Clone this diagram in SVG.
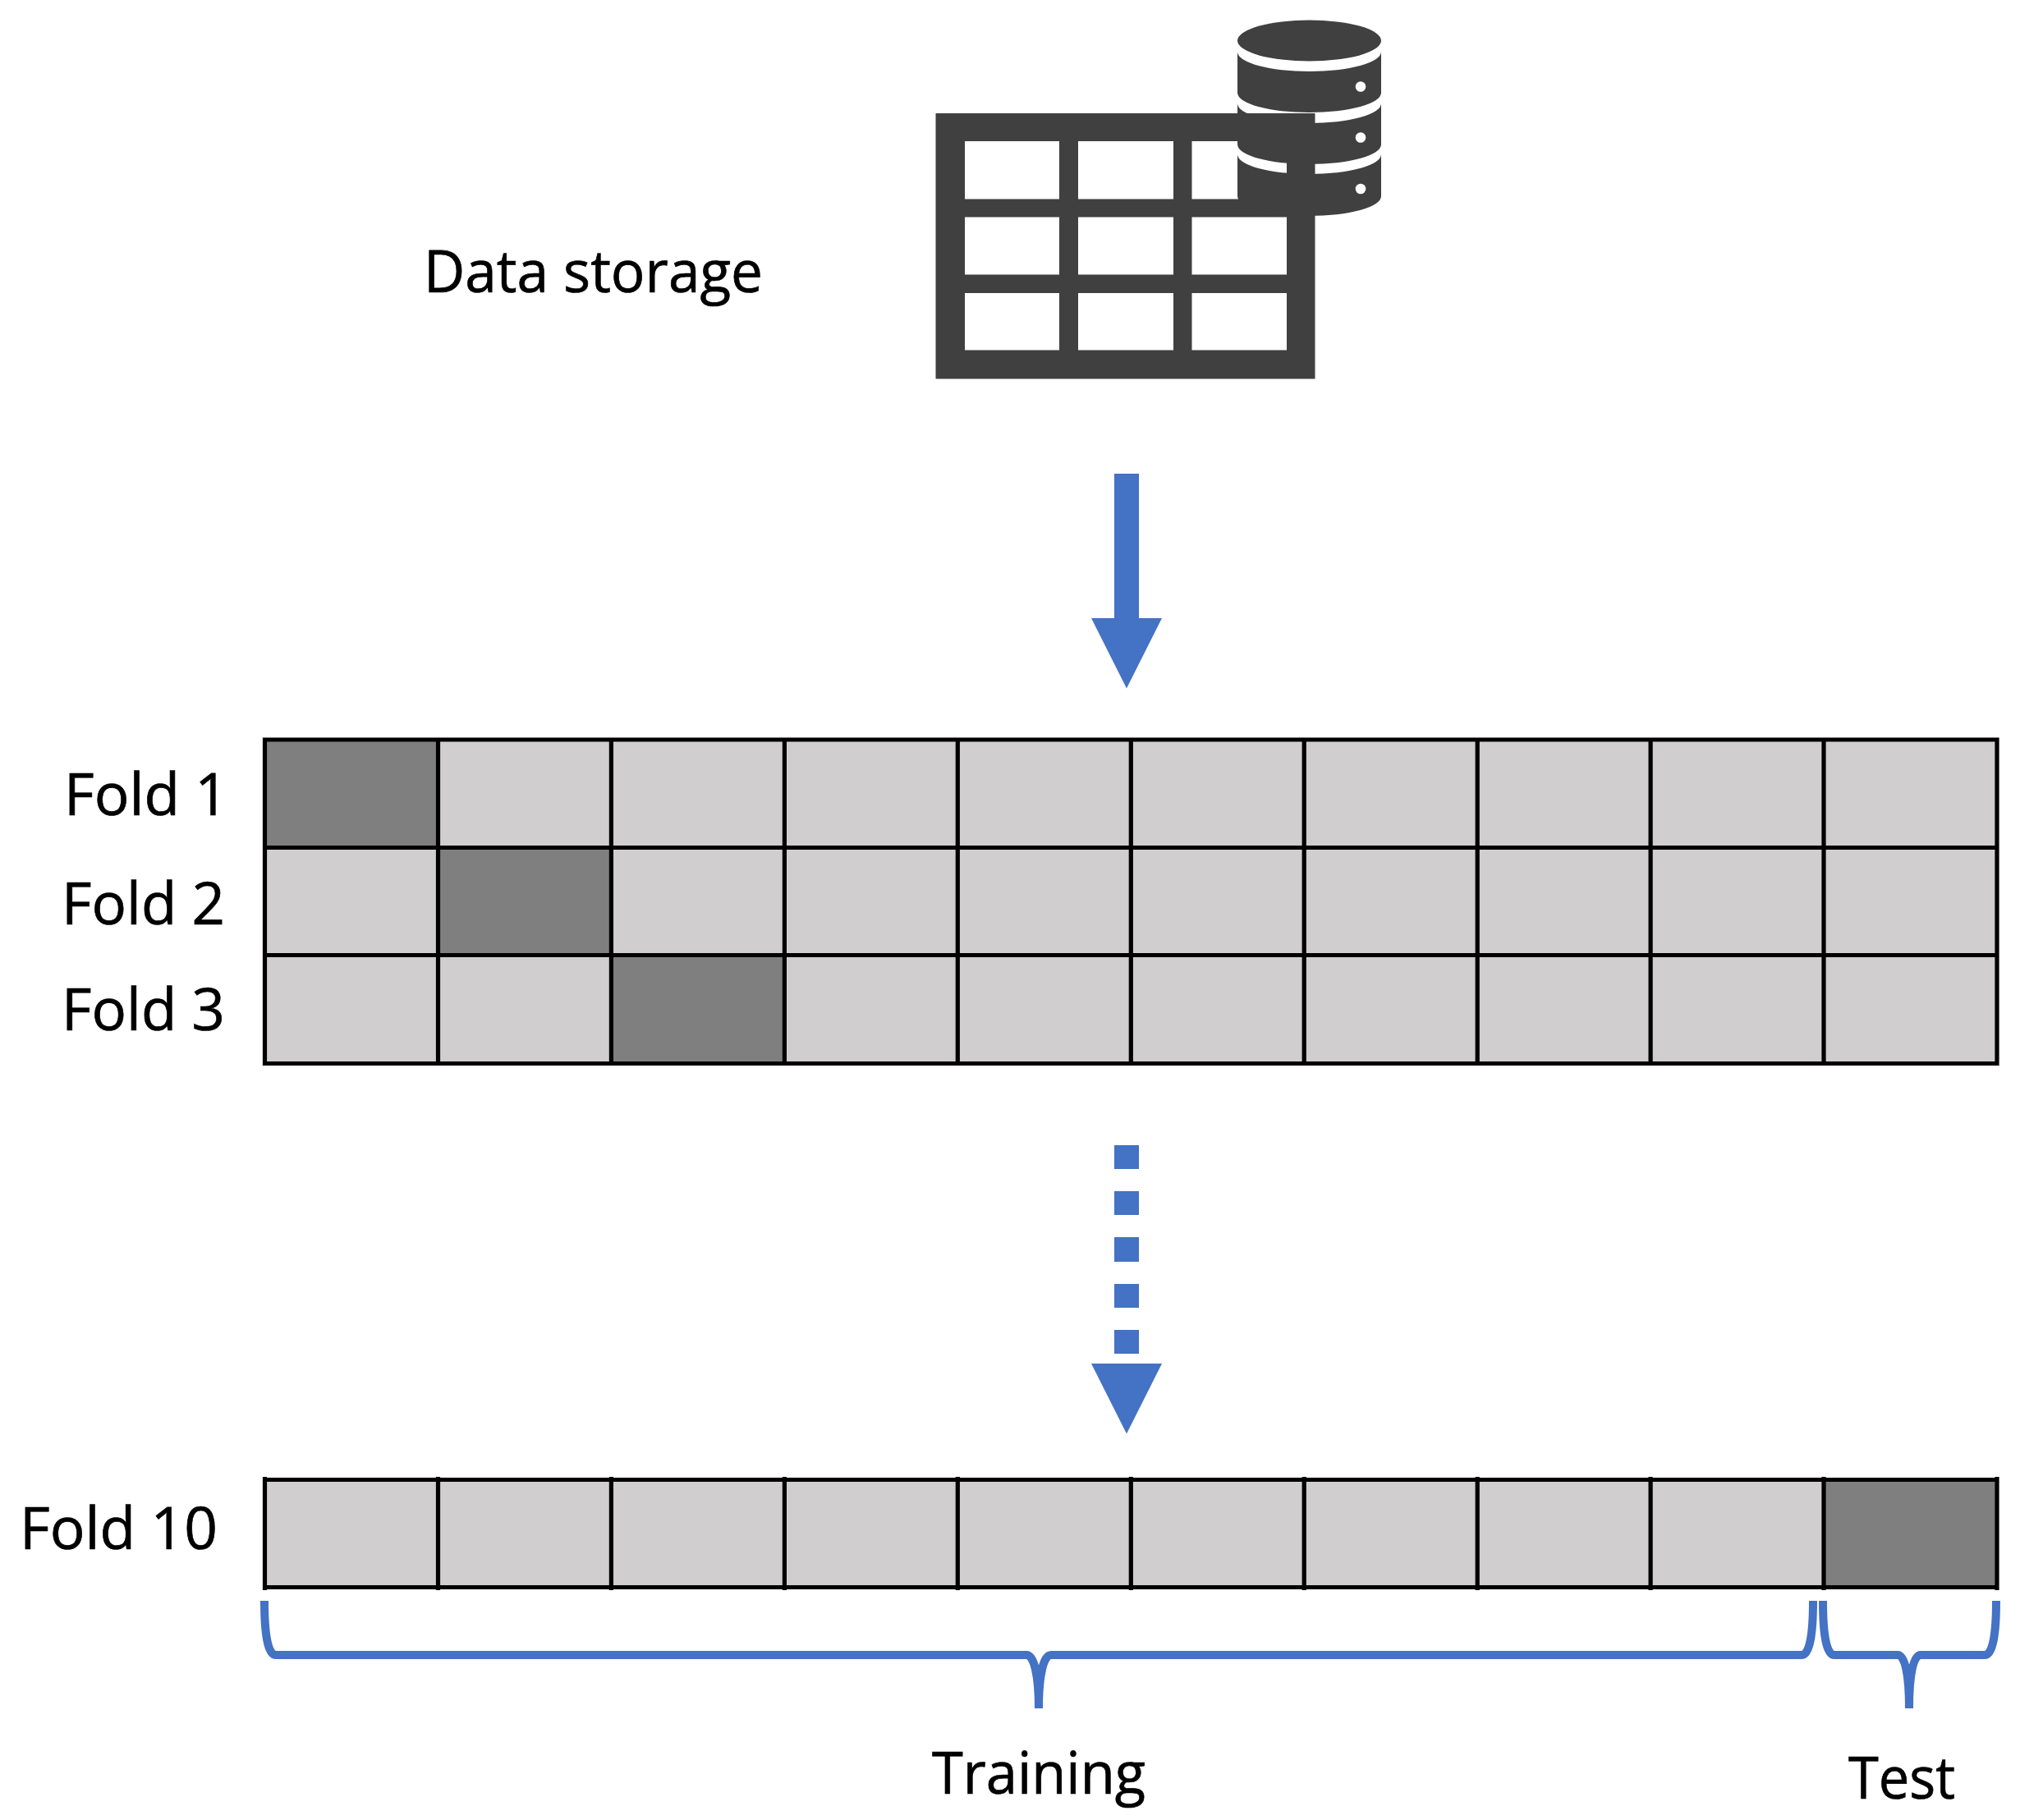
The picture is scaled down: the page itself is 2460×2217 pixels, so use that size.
<svg xmlns="http://www.w3.org/2000/svg" width="2460" height="2217" viewBox="0 0 2460 2217">
<style>
text{font-family:"Open Sans","Noto Sans","Liberation Sans",sans-serif;font-size:71px;fill:#000;stroke:#000;stroke-width:.7}
.l{fill:#D0CECE}.d{fill:#7F7F7F}
.g{stroke:#000;stroke-width:5.2;fill:none}
.b{fill:#4472C4}
.br{fill:none;stroke:#4472C4;stroke-width:10}
.ic{fill:#404040}
</style>
<rect width="2460" height="2217" fill="#fff"/>
<g id="data-storage">
<path class="ic" fill-rule="evenodd" d="M1139.5 138H1601.5V461.5H1139.5ZM1175 172V242.5H1290V172ZM1313 172V242.5H1429V172ZM1451.5 172V242.5H1567V172ZM1175 264.5V334.5H1290V264.5ZM1313 264.5V334.5H1429V264.5ZM1451.5 264.5V334.5H1567V264.5ZM1175 357V426.5H1290V357ZM1313 357V426.5H1429V357ZM1451.5 357V426.5H1567V357Z"/>
<ellipse class="ic" cx="1594.5" cy="49.5" rx="87.5" ry="25"/>
<path class="ic" d="M1507 63A87.500 24 0 0 0 1682 63V113A87.500 24 0 0 1 1507 113Z"/>
<path class="ic" d="M1507 126A87.500 24 0 0 0 1682 126V176A87.500 24 0 0 1 1507 176Z"/>
<path class="ic" d="M1507 188A87.500 24 0 0 0 1682 188V239A87.500 24 0 0 1 1507 239Z"/>
<circle cx="1657" cy="105.5" r="6.3" fill="#fff"/>
<circle cx="1657" cy="167.5" r="6.3" fill="#fff"/>
<circle cx="1657" cy="230" r="6.3" fill="#fff"/>
<text x="516" y="355.500" textLength="413" lengthAdjust="spacingAndGlyphs">Data storage</text>
</g>
<g id="connectors">
<path class="b" d="M1357 577H1387V753H1415L1372 838.500L1329 753H1357Z"/>
<g id="dashed-arrow">
<rect class="b" x="1357" y="1395" width="30" height="29"/>
<rect class="b" x="1357" y="1451" width="30" height="29"/>
<rect class="b" x="1357" y="1507" width="30" height="30"/>
<rect class="b" x="1357" y="1564" width="30" height="29"/>
<rect class="b" x="1357" y="1620" width="30" height="29"/>
<path class="b" d="M1329 1661H1415L1372 1746.500Z"/>
</g>
<path id="brace-training" class="br" d="M322 1950C322 1990 326 2016 336 2016H1250C1259 2016 1265 2040 1265 2081C1265 2040 1271 2016 1280 2016H2194C2204 2016 2208 1990 2208 1950"/>
<path id="brace-test" class="br" d="M2220 1950C2220 1990 2224 2016 2234 2016H2311C2320 2016 2325 2040 2325 2081C2325 2040 2330 2016 2339 2016H2417C2427 2016 2431 1990 2431 1950"/>
</g>
<g id="folds-grid">
<rect class="l" x="322" y="901" width="2110" height="394"/>
<rect class="d" x="322.500" y="901" width="211" height="131"/>
<rect class="d" x="533.500" y="1032" width="211" height="131"/>
<rect class="d" x="744.500" y="1163" width="211" height="132"/>
<path class="g" d="M322.500 901H2432V1295.500H322.500ZM322.500 1032.500H2432M322.500 1163.500H2432M533.500 901V1295.500M744.400 901V1295.500M955.400 901V1295.500M1166.300 901V1295.500M1377.300 901V1295.500M1588.200 901V1295.500M1799.200 901V1295.500M2010.100 901V1295.500M2221 901V1295.500"/>
</g>
<g id="fold-1"><text x="78" y="992.500" textLength="200" lengthAdjust="spacingAndGlyphs">Fold 1</text></g>
<g id="fold-2"><text x="75" y="1125.500" textLength="199" lengthAdjust="spacingAndGlyphs">Fold 2</text></g>
<g id="fold-3"><text x="75" y="1254.500" textLength="199" lengthAdjust="spacingAndGlyphs">Fold 3</text></g>
<g id="fold-10">
<text x="24" y="1886.500" textLength="241" lengthAdjust="spacingAndGlyphs">Fold 10</text>
<rect class="l" x="322" y="1802" width="1899" height="131"/>
<rect class="d" x="2221" y="1802" width="211" height="131"/>
<path class="g" d="M322.500 1802.500H2432M322.500 1933.500H2432M322.500 1799V1937M533.500 1799V1937M744.400 1799V1937M955.400 1799V1937M1166.300 1799V1937M1377.300 1799V1937M1588.200 1799V1937M1799.200 1799V1937M2010.100 1799V1937M2221 1799V1937M2432 1799V1937"/>
</g>
<g id="training"><text x="1135" y="2184.700" textLength="260" lengthAdjust="spacingAndGlyphs">Training</text></g>
<g id="test"><text x="2251" y="2190.500" textLength="130" lengthAdjust="spacingAndGlyphs">Test</text></g>
</svg>
